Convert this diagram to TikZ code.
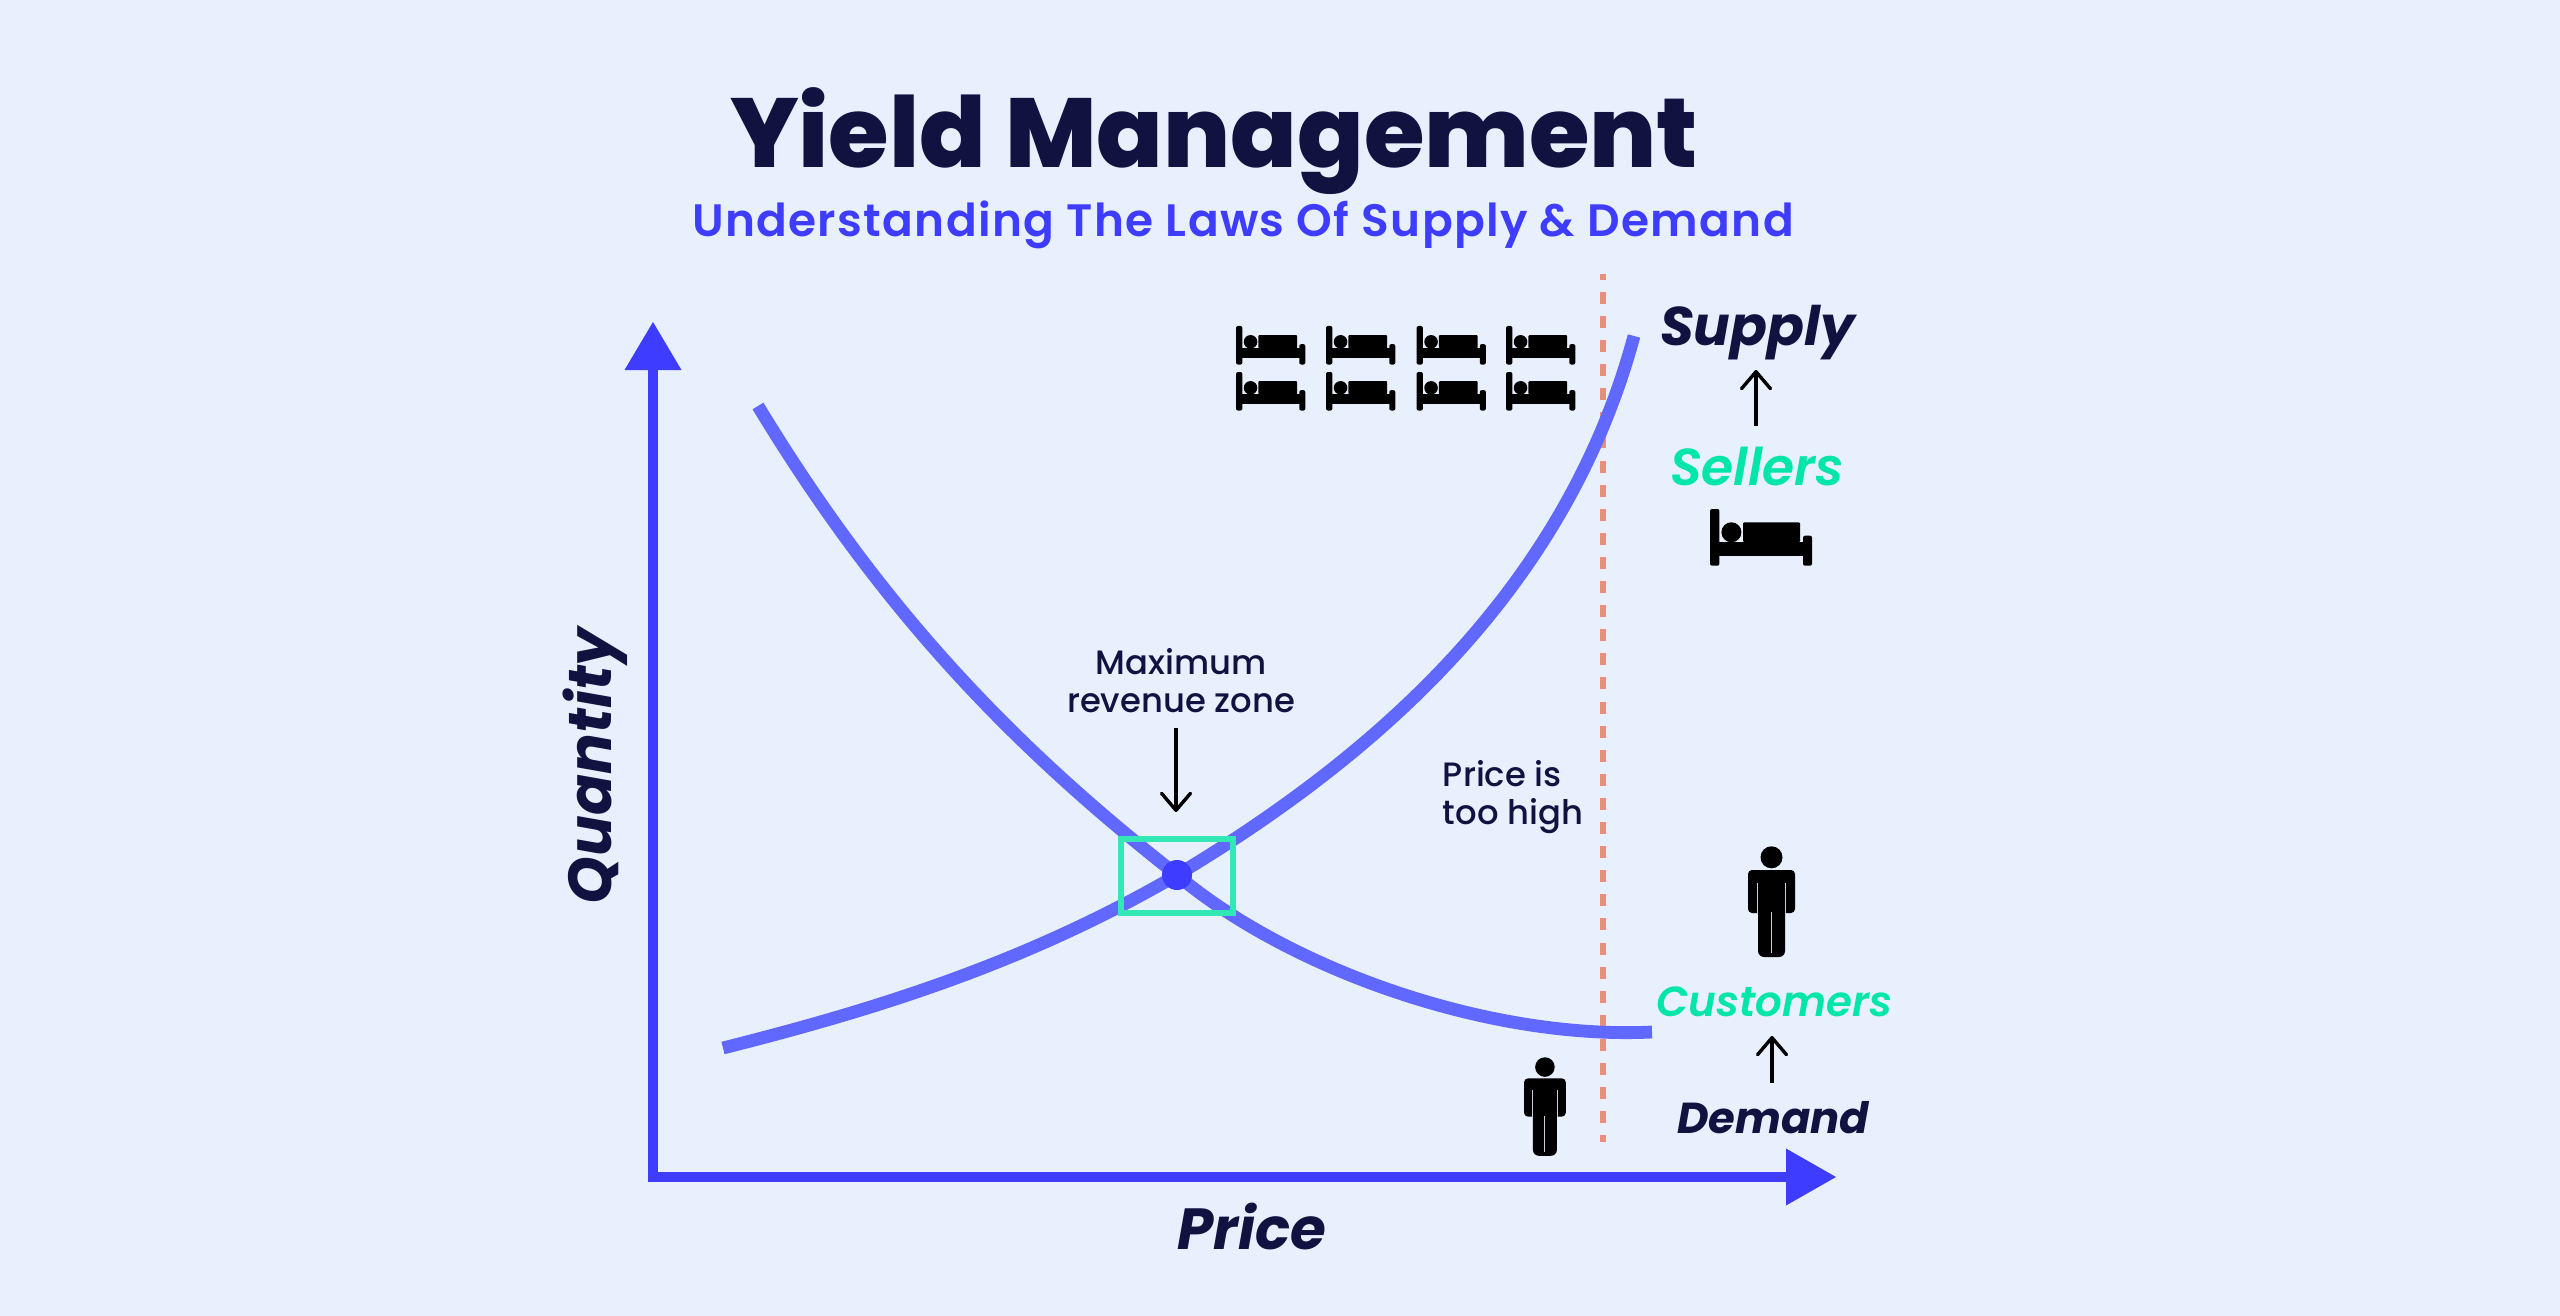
\documentclass[tikz,border=0pt]{standalone}
\usepackage{fontspec}
\setmainfont{Poppins}
\newfontfamily\titlefont{Poppins ExtraBold}
\newfontfamily\subfont[LetterSpace=3]{Poppins SemiBold}
\newfontfamily\medfont{Poppins Medium}
\newfontfamily\meditfont{Poppins SemiBold Italic}
\usetikzlibrary{arrows.meta}
\definecolor{bgc}{HTML}{E8F0FE}
\definecolor{navy}{HTML}{10123F}
\definecolor{axisblue}{HTML}{3E3CFF}
\definecolor{curveblue}{HTML}{6068FF}
\definecolor{mint}{HTML}{00E5A8}
\definecolor{boxmint}{HTML}{33E8B5}
\definecolor{salmon}{HTML}{E98E7C}
\newcommand\fitw[2]{\resizebox{#1pt}{!}{#2}}
\tikzset{
  x=0.5pt,y=-0.5pt,
  lbl/.style={anchor=base west,inner sep=0pt,outer sep=0pt,text=navy},
  emph/.style={lbl,font=\itshape\bfseries},
  note/.style={inner sep=0pt,outer sep=0pt,text=navy,font=\medfont\fontsize{16.9}{19}\selectfont,align=center},
  axisline/.style={draw=axisblue,line width=5.2pt,miter limit=10,{Triangle[length=24pt,width=28.5pt,line width=0pt]}-{Triangle[length=25pt,width=28.5pt,line width=0pt]}},
  curve/.style={draw=curveblue,line width=6.4pt},
  limitline/.style={draw=salmon,line width=3.3pt,dash pattern=on 6pt off 6.05pt,dash phase=3.15pt},
  pointer/.style={draw=black,line width=2pt,-{Straight Barb[length=8.5pt,width=14.5pt,line width=1.7pt,round]}},
  zonebox/.style={draw=boxmint,line width=3.2pt},
  pics/bed/.style={code={
    \fill[black,rounded corners=1pt] (0,0) rectangle (9.4,56.7);
    \fill[black] (9,32.7) rectangle (94,47);
    \fill[black,rounded corners=1pt] (93,26.7) rectangle (102,56.7);
    \fill[black] (21.4,23.3) circle (10);
    \fill[black,rounded corners=.5pt] (33,13.3) rectangle (90,33);
  }},
  pics/person/.style={code={
    \fill[black] (23.5,11.3) circle (11);
    \fill[black,rounded corners=2pt] (0,24) rectangle (47,67);
    \fill[black,rounded corners=3pt] (10,50) rectangle (37,111);
    \draw[bgc!70!gray,line width=.5pt] (9.7,37) -- (9.7,67.5) (37.3,37) -- (37.3,67.5) (23.5,66) -- (23.5,107);
  }},
}
\begin{document}
\begin{tikzpicture}
\useasboundingbox (0,0) rectangle (2560,1316);
\fill[bgc] (0,0) rectangle (2560,1316);

\node[lbl,text=navy] (title) at (730,168) {\fitw{484}{\titlefont Yield Management}};
\node[lbl,text=axisblue] (subtitle) at (692,237) {\fitw{551}{\subfont Understanding The Laws Of Supply \& Demand}};

% limit line
\coordinate (limtop) at (1603,274);
\coordinate (limbot) at (1603,1142);
\draw[limitline] (limtop) -- (limbot);

% axes
\coordinate (ytip) at (653,322);
\coordinate (origin) at (653,1177);
\coordinate (xtip) at (1836,1177);
\draw[axisline] (ytip) -- (origin) -- (xtip);

% curves
\coordinate (cross) at (1177,875);
\coordinate (supstart) at (723,1048);
\coordinate (supend) at (1634,336);
\coordinate (demstart) at (758,406);
\coordinate (demend) at (1652,1032);
\draw[curve] (supstart) .. controls (874,1010) and (1026,963) .. (cross)
  .. controls (1367,761) and (1564,596) .. (supend);
\draw[curve] (demstart) .. controls (878,604) and (1007,742) .. (cross)
  .. controls (1290,970) and (1490,1040) .. (demend);

\node[zonebox,minimum width=56pt,minimum height=37pt,inner sep=0pt] (zone) at (1177,876) {};
\fill[axisblue] (cross) circle (15);

% labels
\node[emph] (supply) at (1660,346) {\fitw{97.5}{Supply}};
\node[lbl,text=mint] (sellers) at (1670,485) {\fitw{87}{\meditfont Sellers}};
\node[lbl,text=mint] (customers) at (1656,1016) {\fitw{118}{\meditfont Customers}};
\node[emph] (demand) at (1677,1133) {\fitw{96}{Demand}};
\node[emph] (price) at (1177,1249) {\fitw{74.5}{Price}};
\node[emph,rotate=90,anchor=base west] (quantity) at (611,904) {\fitw{138}{Quantity}};

\node[note] (maxzone) at (1181,681) {Maximum\\revenue zone};
\node[note,align=left] (toohigh) at (1513,797) {Price is\\too high};

% pointers
\coordinate (maxfrom) at (1176,728);
\coordinate (maxto) at (1176,812);
\draw[pointer] (maxfrom) -- (maxto);
\coordinate (supfrom) at (1756,426);
\coordinate (supto) at (1756,370);
\draw[pointer] (supfrom) -- (supto);
\coordinate (demfrom) at (1772,1083);
\coordinate (demto) at (1772,1036);
\draw[pointer] (demfrom) -- (demto);

% icons
\foreach \bx in {1236,1326,1416.5,1506} \foreach \by in {326,372}
  \pic[scale=.68] at (\bx,\by) {bed};
\pic at (1710,509) {bed};
\pic at (1748,846) {person};
\pic[scale=.89] at (1524,1057) {person};
\end{tikzpicture}
\end{document}
